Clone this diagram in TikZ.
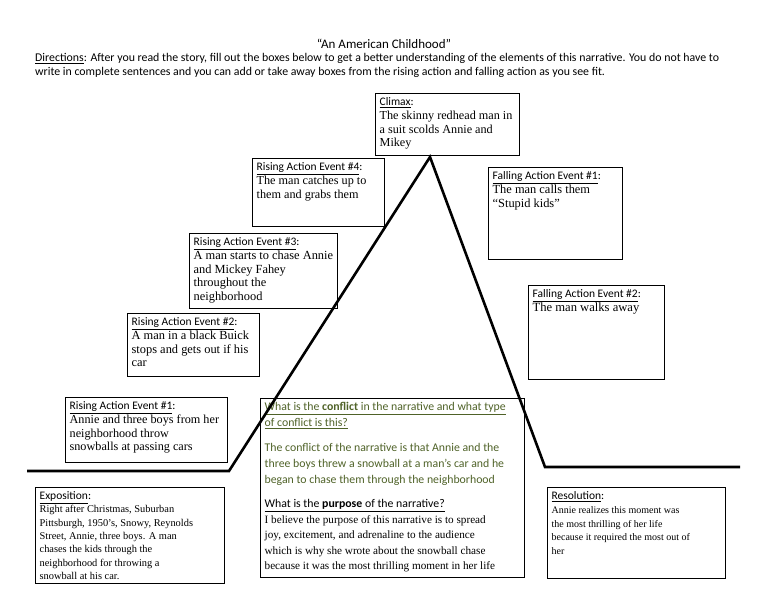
\documentclass[tikz,border=0pt]{standalone}
\usepackage{fontspec}
\setmainfont{Liberation Serif}
\newfontfamily\headfont{Carlito}
\definecolor{conflictgreen}{RGB}{79,98,40}
\newcommand{\boxtext}[4][11.8]{\begin{minipage}[t][#3][t]{#2}\raggedright\fontsize{#1}{13.7}\selectfont #4\end{minipage}}
\newcommand{\boxhead}[1]{{\headfont\fontsize{11.5}{13.7}\selectfont\underline{#1}:}}
\tikzset{
  plotbox/.style={draw, line width=1.3pt, anchor=north west, inner sep=4pt},
  plotline/.style={line width=2.6pt, line join=miter}
}

\begin{document}
\begin{tikzpicture}[x=1pt, y=-1pt]
\useasboundingbox (0,0) rectangle (768,594);
\node[font=\headfont\fontsize{13}{15}\selectfont] (title) at (384,44) {“An American Childhood”};
\node[anchor=north west, inner sep=0pt, align=left, font=\headfont\fontsize{11.85}{14}\selectfont] (directions) at (35,53.5) {\underline{Directions}: After you read the story, fill out the boxes below to get a better understanding of the elements of this narrative. You do not have to\\write in complete sentences and you can add or take away boxes from the rising action and falling action as you see fit.};
\node[plotbox] (climax) at (375,93) {\boxtext[12.2]{136pt}{54pt}{\boxhead{Climax}\\The skinny redhead man in\\a suit scolds Annie and\\Mikey}};
\node[plotbox] (rising4) at (252,158) {\boxtext[12.2]{124pt}{60pt}{\boxhead{Rising Action Event \#4}\\The man catches up to\\them and grabs them}};
\node[plotbox] (falling1) at (488,167) {\boxtext[12.4]{126pt}{84pt}{\boxhead{Falling Action Event \#1}\\The man calls them\\“Stupid kids”}};
\node[plotbox] (rising3) at (189,233) {\boxtext[12.4]{140pt}{67pt}{\boxhead{Rising Action Event \#3}\\A man starts to chase Annie\\and Mickey Fahey\\throughout the\\neighborhood}};
\node[plotbox] (rising2) at (127,313) {\boxtext[12.4]{124pt}{55pt}{\boxhead{Rising Action Event \#2}\\A man in a black Buick\\stops and gets out if his\\car}};
\node[plotbox] (falling2) at (528,285) {\boxtext[12.6]{128pt}{86pt}{\boxhead{Falling Action Event \#2}\\The man walks away}};
\node[plotbox] (rising1) at (65,397) {\boxtext[12.2]{154pt}{57pt}{\boxhead{Rising Action Event \#1}\\Annie and three boys from her\\neighborhood throw\\snowballs at passing cars}};
\node[plotbox] (questions) at (260,398) {\begin{minipage}[t][171pt][t]{256pt}\raggedright
{\headfont\fontsize{11.8}{16}\selectfont\color{conflictgreen}\underline{What is the \textbf{conflict} in the narrative and what type}\\\underline{of conflict is this?}\\[9pt]
The conflict of the narrative is that Annie and the\\three boys threw a snowball at a man’s car and he\\began to chase them through the neighborhood\par}
\vspace{10pt}
{\headfont\fontsize{11.8}{14}\selectfont\underline{What is the \textbf{purpose} of the narrative?}\par}
{\fontsize{11.2}{15.4}\selectfont I believe the purpose of this narrative is to spread\\joy, excitement, and adrenaline to the audience\\which is why she wrote about the snowball chase\\because it was the most thrilling moment in her life\par}
\end{minipage}};
\node[plotbox] (exposition) at (35,487) {\begin{minipage}[t][88pt][t]{181pt}\raggedright\fontsize{10.4}{13.3}\selectfont\boxhead{Exposition}\\Right after Christmas, Suburban\\Pittsburgh, 1950’s, Snowy, Reynolds\\Street, Annie, three boys. A man\\chases the kids through the\\neighborhood for throwing a\\snowball at his car.\end{minipage}};
\node[plotbox] (resolution) at (547,487) {\boxtext[10]{170pt}{83pt}{\boxhead{Resolution}\\Annie realizes this moment was\\the most thrilling of her life\\because it required the most out of\\her}};
\coordinate (base start) at (27,471);
\coordinate (rise start) at (229,471);
\coordinate (peak) at (430,157);
\coordinate (fall end) at (545,467);
\coordinate (base end) at (740,467);
\draw[plotline] (base start) -- (rise start) -- (peak) -- (fall end) -- (base end);
\end{tikzpicture}
\end{document}
